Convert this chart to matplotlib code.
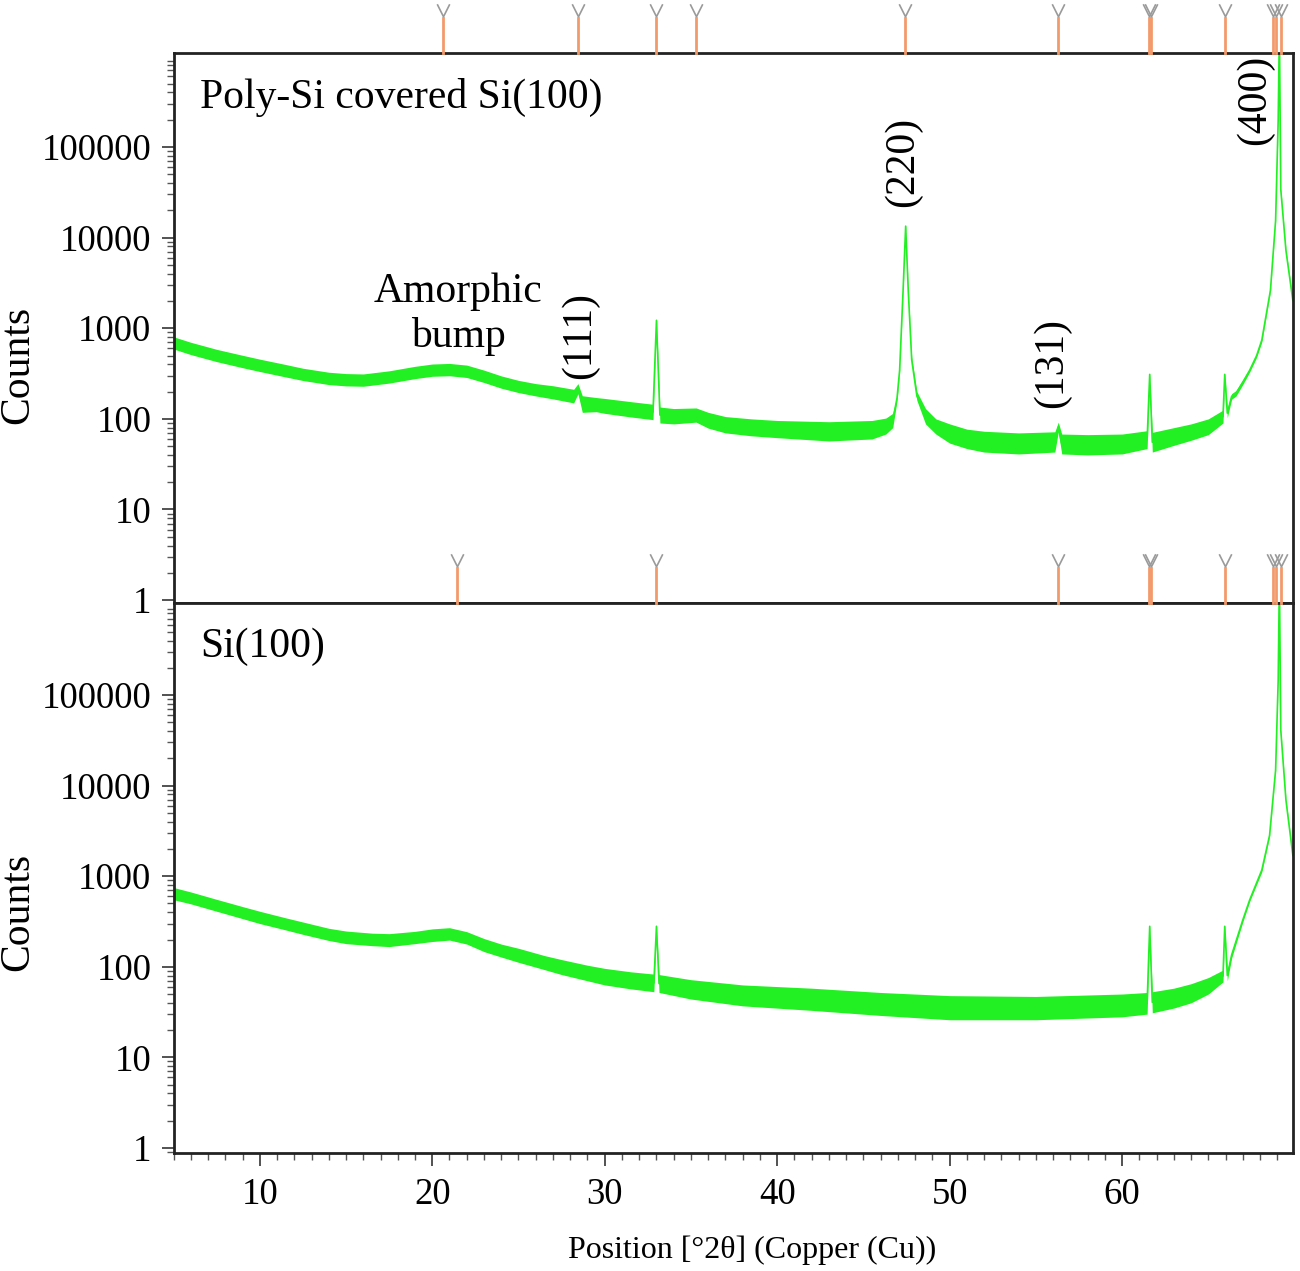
import matplotlib
matplotlib.use("Agg")
import matplotlib.pyplot as plt
from matplotlib.path import Path
from matplotlib.ticker import MultipleLocator, LogLocator, NullFormatter
from matplotlib.transforms import blended_transform_factory

plt.rcParams['font.family'] = ['Liberation Serif', 'DejaVu Serif']

# ---- data (2theta in degrees, counts: lower / upper edge of the noisy trace) ----
top_x = [5.0, 6, 7.5, 9, 10, 11.5, 12.5, 14, 15, 16, 17.5, 19, 20, 21, 22, 23, 24, 25, 26, 27,
         28.2, 28.45, 28.7, 29.5, 30, 31.5, 32.8, 33.0, 33.2, 34, 35.3, 36, 37, 38.5, 40, 43,
         45.5, 46.3, 46.7, 46.95, 47.1, 47.3, 47.45, 47.6, 47.8, 48.1, 48.6, 49.2, 50, 51, 52,
         54, 56.1, 56.3, 56.5, 58, 60, 61.45, 61.6, 61.75, 63, 64, 65, 65.85, 65.95, 66.1,
         66.35, 66.6, 67.0, 67.4, 67.8, 68.1, 68.6, 68.9, 69.05, 69.12, 69.2, 69.5, 69.9]
top_lo = [590, 512, 428, 367, 333, 290, 265, 239, 231, 229, 248, 278, 295, 299, 286, 252, 218, 195, 179, 166,
          150, 190, 118, 120, 115, 105, 98, 1150, 90, 88, 92, 79, 70, 65, 62, 57,
          60, 68, 80, 160, 330, 2500, 13000, 2500, 420, 160, 88, 68, 54, 47, 43,
          41, 43, 72, 41, 40, 41, 47, 300, 43, 51, 58, 67, 90, 300, 103,
          165, 178, 240, 330, 480, 710, 2550, 15000, 190000, 2e6, 33000, 7000, 1950]
top_hi = [805, 700, 585, 503, 456, 398, 362, 327, 316, 313, 339, 380, 403, 409, 392, 345, 298, 266, 245, 232,
          212, 245, 180, 172, 168, 155, 145, 1300, 135, 130, 132, 118, 106, 100, 96, 93,
          96, 102, 115, 180, 360, 2700, 13800, 2700, 480, 200, 130, 100, 88, 77, 73,
          70, 72, 92, 68, 67, 68, 74, 320, 71, 80, 88, 100, 125, 320, 130,
          190, 205, 270, 360, 520, 770, 2700, 16000, 210000, 2e6, 35000, 7400, 2100]

bot_x = [5.0, 6, 7.5, 9, 10, 11.5, 12.5, 14, 15, 16.5, 17.5, 19, 20, 21, 22, 23, 24, 25, 26.5,
         27.5, 29, 30, 31.5, 32.85, 33.0, 33.15, 35, 38, 42, 46, 50, 55, 60, 61.45, 61.6,
         61.75, 63, 64, 65, 65.85, 65.95, 66.1, 66.35, 67.0, 67.4, 68.1, 68.55, 68.9, 69.05,
         69.12, 69.2, 69.5, 69.9]
bot_lo = [550, 495, 410, 340, 300, 255, 228, 195, 180, 171, 167, 180, 190, 197, 178, 147, 128, 112, 93,
          82, 70, 63, 57, 53, 270, 52, 44, 37, 33, 29, 26, 26, 28, 30, 270,
          31, 35, 40, 50, 68, 270, 70, 125, 315, 530, 1120, 2750, 14500, 140000,
          2e6, 40000, 6700, 1650]
bot_hi = [750, 670, 555, 462, 410, 347, 312, 266, 248, 235, 232, 246, 262, 270, 244, 205, 178, 160, 133,
          120, 104, 96, 88, 83, 290, 82, 72, 63, 58, 52, 48, 47, 50, 52, 290,
          53, 58, 65, 76, 92, 290, 92, 145, 345, 570, 1220, 2900, 15200, 155000,
          2e6, 42000, 7100, 1750]

# reference pattern stick positions
top_sticks = [20.65, 28.43, 33.0, 35.3, 47.4, 56.27, 61.55, 61.65, 65.95, 68.75, 68.95, 69.2]
bot_sticks = [21.43, 32.97, 56.27, 61.55, 61.65, 65.95, 68.75, 68.95, 69.2]

yticks = [1, 10, 100, 1000, 10000, 100000]
ytick_labels = ['1', '10', '100', '1000', '10000', '100000']

GREEN = '#22f022'
STICK = '#f39a6b'
V_MARK = Path([(-1, 1), (0, -1), (1, 1)], [Path.MOVETO, Path.LINETO, Path.LINETO])


def draw_panel(ax, x, lo, hi, sticks, title, ylim):
    mid = [(a * b) ** 0.5 for a, b in zip(lo, hi)]
    ax.fill_between(x, lo, hi, color=GREEN, lw=0)
    ax.plot(x, mid, color=GREEN, lw=1.2)
    ax.set_yscale('log')
    ax.set_xlim(5, 69.9)
    ax.set_ylim(*ylim)
    ax.set_yticks(yticks)
    ax.set_yticklabels(ytick_labels)
    ax.yaxis.set_minor_locator(LogLocator(base=10, subs=range(2, 10), numticks=20))
    ax.yaxis.set_minor_formatter(NullFormatter())
    ax.tick_params(axis='y', which='major', length=9, width=1.3, labelsize=26.5,
                   pad=7, color='#444444')
    ax.tick_params(axis='y', which='minor', length=5, width=1.0, color='#555555')
    for s in ax.spines.values():
        s.set_linewidth(2)
        s.set_color('#222222')
    ax.text(0.024, 0.92, title, transform=ax.transAxes, fontsize=30,
            ha='left', va='center')

    # reference sticks above the frame
    tr = blended_transform_factory(ax.transData, ax.transAxes)
    for s in sticks:
        ax.plot([s, s], [1.0, 1.064], transform=tr, color=STICK, lw=2,
                clip_on=False, zorder=5)
    ax.plot(sticks, [1.078] * len(sticks), transform=tr, ls='none', marker=V_MARK,
            ms=9, mfc='none', mec='#9a9a9a', mew=1.2, clip_on=False, zorder=6)


fig = plt.figure(figsize=(13, 12.71), dpi=100)
ax1 = fig.add_axes([0.1335, 0.5256, 0.861, 0.4327])
ax2 = fig.add_axes([0.1335, 0.0929, 0.861, 0.4327])

draw_panel(ax1, top_x, top_lo, top_hi, top_sticks, 'Poly-Si covered Si(100)', (0.93, 1.09e6))
draw_panel(ax2, bot_x, bot_lo, bot_hi, bot_sticks, 'Si(100)', (0.88, 1.04e6))

ax1.tick_params(axis='x', which='both', bottom=False, labelbottom=False)
ax2.xaxis.set_major_locator(MultipleLocator(10))
ax2.xaxis.set_minor_locator(MultipleLocator(1))
ax2.tick_params(axis='x', which='major', length=9, width=1.3, labelsize=26.5,
                pad=9, color='#444444')
ax2.tick_params(axis='x', which='minor', length=5, width=1.0, color='#555555')

# peak annotations
ax1.text(21.5, 1435, 'Amorphic\nbump', fontsize=30, ha='center', va='center',
         linespacing=1.2)
ax1.text(28.56, 841, '(111)', fontsize=30, rotation=90, ha='center', va='center')
ax1.text(47.28, 67900, '(220)', fontsize=30, rotation=90, ha='center', va='center')
ax1.text(55.92, 413, '(131)', fontsize=30, rotation=90, ha='center', va='center')
ax1.text(67.7, 330000, '(400)', fontsize=30, rotation=90, ha='center', va='center')

fig.text(18 / 1300, 0.713, 'Counts', fontsize=30, rotation=90, ha='center', va='center')
fig.text(18 / 1300, 0.2825, 'Counts', fontsize=30, rotation=90, ha='center', va='center')
fig.text(0.5785, 0.0165, 'Position [°2θ] (Copper (Cu))', fontsize=23,
         ha='center', va='center')

fig.savefig('out.png', dpi=100)
